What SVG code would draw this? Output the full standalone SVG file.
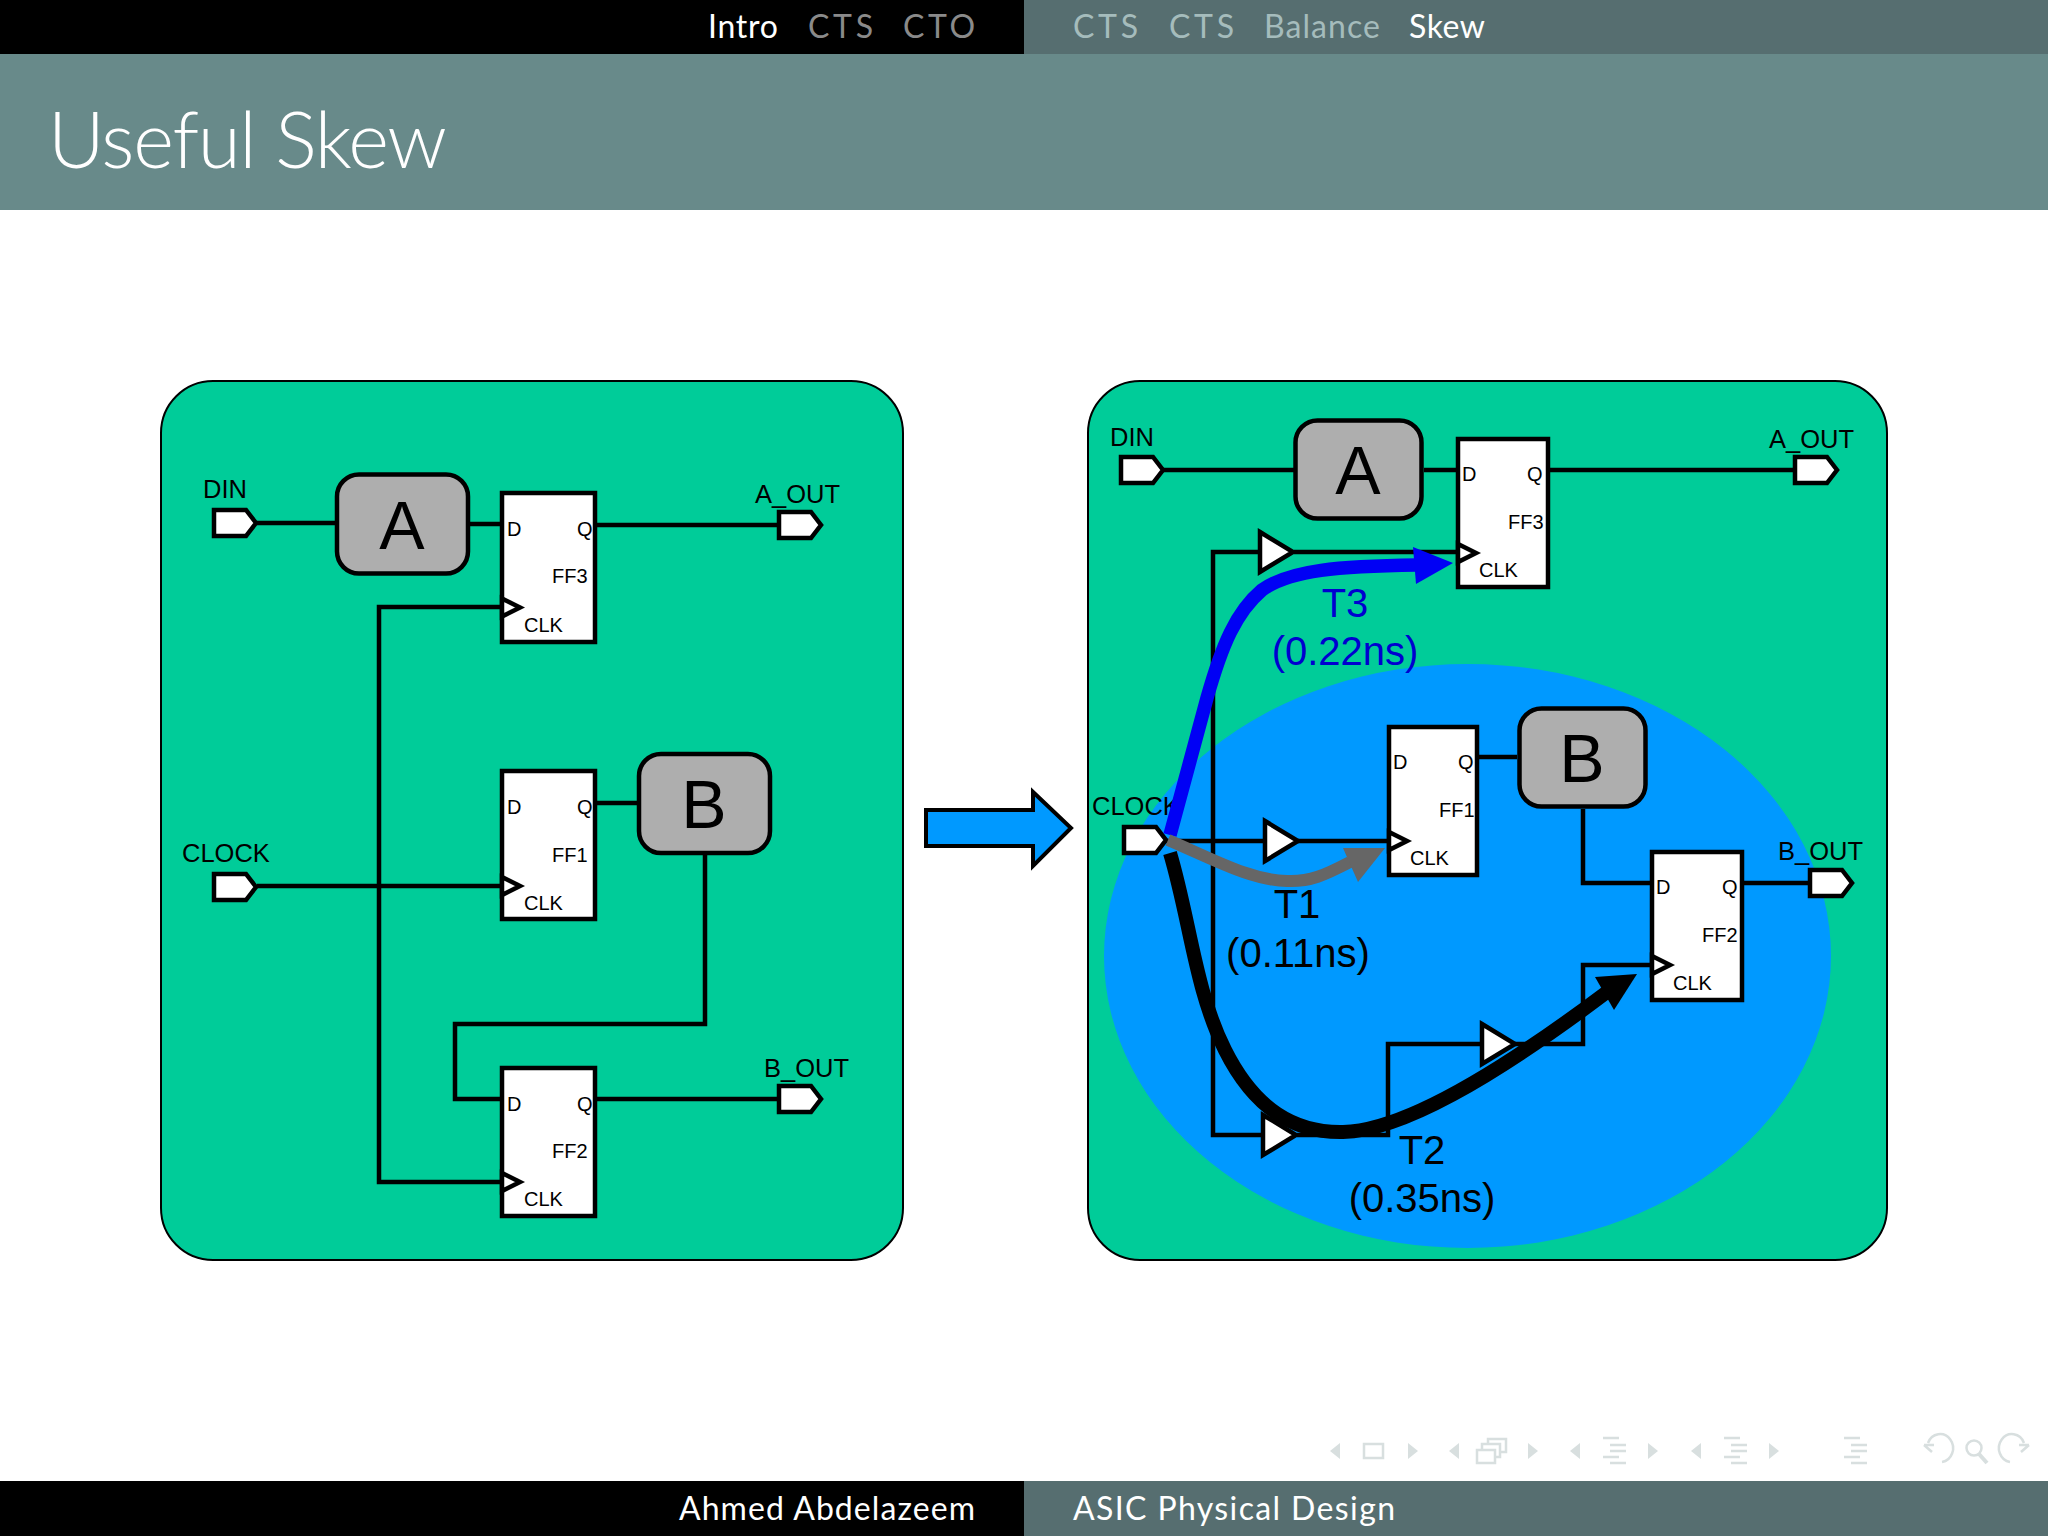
<svg xmlns="http://www.w3.org/2000/svg" width="2048" height="1536" viewBox="0 0 2048 1536">
<style>
.hd{font-family:Lato,"Open Sans",sans-serif;font-weight:400;font-size:32px}
.w{fill:#fff}.g1{fill:#8a8a8a}.g2{fill:#a5bcbc}
.t{font-family:"Liberation Sans",Arial,sans-serif;fill:#000}
.l{font-size:25.5px}.f{font-size:20px}.big{font-size:68px;text-anchor:middle}.m{font-size:40px;text-anchor:middle}
.panel{fill:#00cc99;stroke:#000;stroke-width:2}
.wire{fill:none;stroke:#000;stroke-width:4.5}
.ffb{fill:#fff;stroke:#000;stroke-width:4.5}
.blk{fill:#aeaeae;stroke:#000;stroke-width:4.5}
.port{fill:#fff;stroke:#000;stroke-width:4.5}
.buf{fill:#fff;stroke:#000;stroke-width:4.5}
.nav{fill:#d8dfdf;stroke:none}.navs{fill:none;stroke:#d8dfdf;stroke-width:2.5}
</style>
<defs>
<polygon id="p" class="port" points="0,-13 32,-13 42,0 32,13 0,13"/>
<polygon id="ck" class="ffb" points="0,-9 18,0 0,9"/>
<polygon id="bf" class="buf" points="0,-20 33,0 0,20"/>
<g id="nl"><polygon class="nav" points="10,0 10,16 0,8"/></g>
<g id="nr"><polygon class="nav" points="0,0 0,16 10,8"/></g>
<g id="list"><path class="navs" d="M0,1H16M7,8H23M7,14H23M0,20H16M7,26H23"/></g>
</defs>

<g id="header">
<rect width="1024" height="54" fill="#000"/>
<rect x="1024" width="1024" height="54" fill="#566e70"/>
<rect y="54" width="2048" height="156" fill="#688a8a"/>
<text class="hd w" x="708" y="38" textLength="70">Intro</text>
<text class="hd g1" x="808" y="38" textLength="65">CTS</text>
<text class="hd g1" x="903" y="38" textLength="72">CTO</text>
<text class="hd g2" x="1073" y="38" textLength="65">CTS</text>
<text class="hd g2" x="1169" y="38" textLength="65">CTS</text>
<text class="hd g2" x="1264" y="38" textLength="116">Balance</text>
<text class="hd w" x="1409" y="38" textLength="76">Skew</text>
<text class="hd w" x="48" y="168" style="font-size:78px;font-weight:300" textLength="399">Useful Skew</text>
</g>

<g id="left-panel"><rect class="panel" x="161" y="381" width="742" height="879" rx="52"/></g>
<g id="right-panel"><rect class="panel" x="1088" y="381" width="799" height="879" rx="52"/></g>
<ellipse id="skew-zone" cx="1467.5" cy="956" rx="363.5" ry="292" fill="#0099ff"/>

<g id="connectors">
<path class="wire" d="M257,523H336M470,524H502M597,525H778"/>
<path class="wire" d="M257,886H502M379,886V607H502M379,886V1182H502"/>
<path class="wire" d="M597,803H638M705,855V1024H455V1099H502M597,1099H778"/>
<path class="wire" d="M1163,470H1294M1424,470H1456M1550,470H1793"/>
<path class="wire" d="M1166,841H1263M1298,841H1389M1213,841V552H1258M1294,552H1458M1213,841V1135H1261M1297,1135H1388V1044H1480M1515,1044H1583V965H1652"/>
<path class="wire" d="M1479,757H1517M1583,809V883H1650M1744,883H1808"/>
</g>

<g id="L-DIN"><use href="#p" x="214" y="523"/><text class="t l" x="203" y="498">DIN</text></g>
<g id="L-CLOCK"><use href="#p" x="214" y="887"/><text class="t l" x="182" y="862">CLOCK</text></g>
<g id="L-AOUT"><use href="#p" x="779" y="525"/><text class="t l" x="755" y="503">A_OUT</text></g>
<g id="L-BOUT"><use href="#p" x="779" y="1099"/><text class="t l" x="764" y="1077">B_OUT</text></g>
<g id="L-A"><rect class="blk" x="337" y="474.500" width="131" height="99" rx="22"/><text class="t big" x="402" y="549">A</text></g>
<g id="L-B"><rect class="blk" x="639" y="754" width="131" height="99" rx="22"/><text class="t big" x="704" y="828">B</text></g>
<g id="L-FF3"><rect class="ffb" x="502" y="493" width="93" height="149"/><use href="#ck" x="502" y="607.500"/>
<text class="t f" x="507" y="536">D</text><text class="t f" x="577" y="536">Q</text><text class="t f" x="552" y="583">FF3</text><text class="t f" x="524" y="632">CLK</text></g>
<g id="L-FF1"><rect class="ffb" x="502" y="771" width="93" height="148"/><use href="#ck" x="502" y="886"/>
<text class="t f" x="507" y="814">D</text><text class="t f" x="577" y="814">Q</text><text class="t f" x="552" y="862">FF1</text><text class="t f" x="524" y="910">CLK</text></g>
<g id="L-FF2"><rect class="ffb" x="502" y="1068" width="93" height="148"/><use href="#ck" x="502" y="1182"/>
<text class="t f" x="507" y="1111">D</text><text class="t f" x="577" y="1111">Q</text><text class="t f" x="552" y="1158">FF2</text><text class="t f" x="524" y="1206">CLK</text></g>

<g id="big-arrow"><polygon points="926,810 1033,810 1033,792 1071,828 1033,866 1033,846 926,846" fill="#0099ff" stroke="#000" stroke-width="4"/></g>

<g id="R-DIN"><use href="#p" x="1121" y="470"/><text class="t l" x="1110" y="446">DIN</text></g>
<g id="R-AOUT"><use href="#p" x="1795" y="470"/><text class="t l" x="1769" y="448">A_OUT</text></g>
<g id="R-BOUT"><use href="#p" x="1810" y="883"/><text class="t l" x="1778" y="860">B_OUT</text></g>
<g id="R-CLOCK"><use href="#p" x="1124" y="840"/><text class="t l" x="1092" y="815">CLOCK</text></g>
<g id="R-A"><rect class="blk" x="1295.500" y="420.500" width="126" height="98" rx="22"/><text class="t big" x="1358" y="494">A</text></g>
<g id="R-B"><rect class="blk" x="1519.500" y="708.500" width="126" height="98" rx="22"/><text class="t big" x="1582" y="782">B</text></g>
<g id="R-FF3"><rect class="ffb" x="1458" y="439" width="90" height="148"/><use href="#ck" x="1458" y="553"/>
<text class="t f" x="1462" y="481">D</text><text class="t f" x="1527" y="481">Q</text><text class="t f" x="1508" y="529">FF3</text><text class="t f" x="1479" y="577">CLK</text></g>
<g id="R-FF1"><rect class="ffb" x="1389" y="727" width="88" height="148"/><use href="#ck" x="1389" y="841"/>
<text class="t f" x="1393" y="769">D</text><text class="t f" x="1458" y="769">Q</text><text class="t f" x="1439" y="817">FF1</text><text class="t f" x="1410" y="865">CLK</text></g>
<g id="R-FF2"><rect class="ffb" x="1652" y="852" width="90" height="148"/><use href="#ck" x="1652" y="965"/>
<text class="t f" x="1656" y="894">D</text><text class="t f" x="1722" y="894">Q</text><text class="t f" x="1702" y="942">FF2</text><text class="t f" x="1673" y="990">CLK</text></g>
<g id="buf1"><use href="#bf" x="1260" y="552"/></g>
<g id="buf2"><use href="#bf" x="1265" y="841"/></g>
<g id="buf3"><use href="#bf" x="1263" y="1135"/></g>
<g id="buf4"><use href="#bf" x="1482" y="1044"/></g>

<g id="paths">
<path d="M1170,835L1207,698C1222,645 1236,612 1262,590C1290,570 1340,566 1417,565" fill="none" stroke="#0000f5" stroke-width="13.500"/>
<polygon points="1413,547 1453,563 1416,584" fill="#0000f5"/>
<path d="M1168,840C1215,860 1250,880 1287,881C1310,882 1325,875 1350,862" fill="none" stroke="#666" stroke-width="12"/>
<polygon points="1343,848 1385,848 1358,882" fill="#666"/>
<path d="M1170,853C1190,920 1195,990 1225,1050C1255,1110 1295,1133 1343,1132C1400,1131 1490,1080 1607,992" fill="none" stroke="#000" stroke-width="14"/>
<polygon points="1595,977 1637,974 1614,1010" fill="#000"/>
</g>
<g id="labels">
<text class="t m" x="1345" y="617" style="fill:#0000d0">T3</text><text class="t m" x="1345" y="665" style="fill:#0000d0">(0.22ns)</text>
<text class="t m" x="1297" y="918">T1</text><text class="t m" x="1298" y="967">(0.11ns)</text>
<text class="t m" x="1422" y="1164">T2</text><text class="t m" x="1422" y="1212">(0.35ns)</text>
</g>

<g id="navigation">
<use href="#nl" x="1330" y="1443"/><rect class="navs" x="1364" y="1444" width="19" height="14"/><use href="#nr" x="1408" y="1443"/>
<use href="#nl" x="1449" y="1443"/>
<path class="navs" d="M1477,1450h18v13h-18zM1482,1450v-6h18v13h-5M1488,1444v-5h18v13h-6"/>
<use href="#nr" x="1528" y="1443"/>
<use href="#nl" x="1570" y="1443"/><use href="#list" x="1603" y="1437"/><use href="#nr" x="1648" y="1443"/>
<use href="#nl" x="1691" y="1443"/><use href="#list" x="1724" y="1437"/><use href="#nr" x="1769" y="1443"/>
<use href="#list" x="1844" y="1437"/>
<path class="navs" d="M1928,1443A13,14 0 1 1 1942,1462M1924,1445l8,7M1924,1445h10"/>
<circle class="navs" cx="1974" cy="1448" r="7.500"/><path class="navs" d="M1979,1454l8,9" style="stroke-width:4"/>
<path class="navs" d="M2024,1443A13,14 0 1 0 2010,1462M2029,1445l-8,7M2029,1445h-10"/>
</g>

<g id="footer">
<rect y="1481" width="1024" height="55" fill="#000"/>
<rect x="1024" y="1481" width="1024" height="55" fill="#566e70"/>
<text class="hd w" x="679" y="1520" textLength="296">Ahmed Abdelazeem</text>
<text class="hd w" x="1073" y="1520" textLength="322">ASIC Physical Design</text>
</g>
</svg>
